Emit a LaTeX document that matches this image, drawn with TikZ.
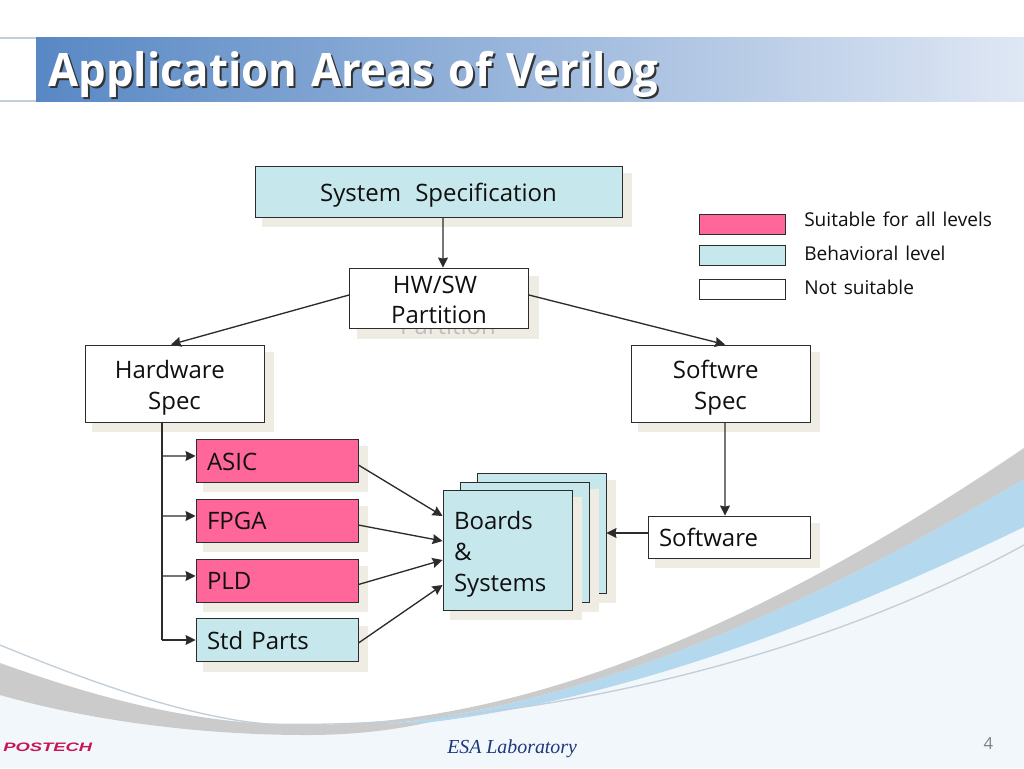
\documentclass[tikz,border=0pt]{standalone}
\usepackage{fontspec}
\setmainfont{Open Sans}
\newfontfamily\esafont{Liberation Serif}
\newfontfamily\logofont[FakeStretch=1.5]{Liberation Sans}
\newfontfamily\titlefont[FakeStretch=0.95]{Open Sans}
\usetikzlibrary{arrows.meta,shadows,calc}
\definecolor{shadowc}{HTML}{EEECE3}
\definecolor{cyanbox}{HTML}{C6E7EC}
\definecolor{pinkbox}{HTML}{FF6699}
\definecolor{bgblue}{HTML}{F2F7FB}
\definecolor{bandblue}{HTML}{B4D8EE}
\definecolor{bandgray}{HTML}{CBCBCB}
\definecolor{thinline}{HTML}{C2CED8}
\definecolor{edge}{HTML}{2C2C2C}
\definecolor{txt}{HTML}{101010}
\newcommand{\dn}[1]{\rule{0pt}{#1pt}}
\newcommand{\lsp}{\hspace{1.5pt} }
\newcommand{\tsp}{\hspace{2pt} }
\tikzset{
  x=0.75pt,y=-0.75pt,
  sz/.style 2 args={minimum width=#1*0.75pt,minimum height=#2*0.75pt},
  plainbox/.style={rectangle,draw=edge,line width=0.7pt,inner sep=0pt,text=txt,
    font=\fontsize{18}{23}\selectfont,align=center},
  shadowed/.style={plainbox,general shadow={fill=shadowc,draw=shadowc,line width=2.2pt,
    shadow xshift=6.4pt,shadow yshift=-6.4pt}},
  leftbox/.style 2 args={shadowed,align=left,text width=#1*0.75pt-16.5pt,inner xsep=8.25pt,
    minimum height=#2*0.75pt},
  conn/.style={draw=edge,line width=1pt,-{Stealth[length=7.5pt,width=7.5pt,inset=0.8pt]}},
  wire/.style={draw=edge,line width=1pt},
  legendbox/.style={rectangle,draw=edge,line width=0.7pt,minimum width=64.5pt,minimum height=15pt,inner sep=0pt},
  legendtext/.style={anchor=west,inner sep=0pt,text=txt,font=\fontsize{14.3}{17}\selectfont},
  titletext/.style={anchor=base west,inner sep=0pt,font=\titlefont\fontsize{34.5}{40}\bfseries\selectfont}
}
\begin{document}
\begin{tikzpicture}
\useasboundingbox (0,0) rectangle (1024,768);
\fill[white] (0,0) rectangle (1024,768);
% background swooshes
\fill[bgblue] (0,695) .. controls (80,718) and (190,735) .. (306,735)
  -- (306,730) .. controls (550,730) and (800,635) .. (1024,527)
  -- (1024,768) -- (0,768) -- cycle;
\fill[bandblue] (306,728) .. controls (550,728) and (800,612) .. (1024,479)
  -- (1024,527) .. controls (800,635) and (550,730) .. (306,730) -- cycle;
\fill[bandgray] (306,725) .. controls (550,725) and (800,600) .. (1024,448)
  -- (1024,479) .. controls (800,612) and (550,728) .. (306,728) -- cycle;
\fill[bandgray] (0,663) .. controls (90,695) and (190,725) .. (306,725)
  .. controls (350,725) and (390,724) .. (430,722)
  .. controls (390,731) and (350,735) .. (306,735)
  .. controls (190,735) and (80,718) .. (0,695) -- cycle;
\draw[thinline,line width=1pt] (0,645) .. controls (90,682) and (190,718) .. (268,724)
  .. controls (520,730) and (810,662) .. (1024,545);
% title bar
\draw[thinline,line width=0.8pt] (0,38) -- (36,38) (0,101) -- (36,101);
\shade[left color={rgb,255:red,88;green,136;blue,196},middle color={rgb,255:red,160;green,184;blue,222},right color={rgb,255:red,223;green,231;blue,244}] (36,37) rectangle (1024,101);
\node[titletext,text=black!80] (titleshadow) at (50,88) {Application\tsp Areas\tsp of\tsp Verilog};
\node[titletext,text=white] (title) at (48,86) {Application\tsp Areas\tsp of\tsp Verilog};
% legend
\node[legendbox,fill=pinkbox] (lg1) at (742,224) {};
\node[legendbox,fill=cyanbox] (lg2) at (742,255) {};
\node[legendbox,fill=white] (lg3) at (742,289) {};
\node[legendtext] (lt1) at (804,219) {Suitable\lsp for\lsp all\lsp levels};
\node[legendtext] (lt2) at (804,253) {Behavioral\lsp level};
\node[legendtext] (lt3) at (804,287) {Not\lsp suitable};
% top boxes
\node[shadowed,sz={367}{51},fill=cyanbox] (sys) at (438.5,191.5) {\dn{19.7}System\hspace{6pt} Specification};
\node[rectangle,fill=shadowc,draw=shadowc,line width=0.6pt,sz={181}{62},inner sep=0pt] (hwshadow) at (447.5,307) {};
\node[text=black!25,font=\fontsize{18}{23}\selectfont,inner sep=0pt] (ghost) at (448,326) {Partition};
\node[plainbox,sz={179}{60},fill=white] (hw) at (439,298) {\dn{15.8}HW/SW\hspace*{6pt}\\[-0.3pt]Partition};
\node[shadowed,sz={179}{77},fill=white] (hwspec) at (174.5,383.5) {\dn{19.7}Hardware\hspace*{7pt}\\Spec};
\node[shadowed,sz={179}{77},fill=white] (swspec) at (720.5,383.5) {\dn{19.7}Softwre\hspace*{7pt}\\Spec};
% parts
\node[leftbox={162}{43},fill=pinkbox] (asic) at (277,460.5) {\dn{15}ASIC};
\node[leftbox={162}{43},fill=pinkbox] (fpga) at (277,520.5) {FPGA};
\node[leftbox={162}{43},fill=pinkbox] (pld) at (277,580.5) {PLD};
\node[leftbox={162}{43},fill=cyanbox] (std) at (277,640) {\dn{15}Std Parts};
% boards stack
\node[shadowed,sz={129}{120},fill=cyanbox] (b3) at (541.5,533) {};
\node[shadowed,sz={129}{120},fill=cyanbox] (b2) at (524.5,542) {};
\node[leftbox={129}{120},fill=cyanbox] (b1) at (507.5,550) {\dn{20}Boards\\\&\\Systems};
\node[leftbox={162}{42},fill=white] (soft) at (729,537) {\dn{15}Software};
% connectors
\draw[conn] ([xshift=3.4pt]sys.south) -- ([xshift=3pt]hw.north);
\draw[conn] ([yshift=2.25pt]hw.west) -- ([xshift=-2.6pt]hwspec.north);
\draw[conn] ([yshift=2.25pt]hw.east) -- ([xshift=3.4pt]swspec.north);
\coordinate (trunk) at ([xshift=-9.4pt]hwspec.south);
\draw[wire] (trunk) -- (trunk |- std.west);
\draw[conn] (trunk |- 0,456) -- ([yshift=3.4pt]asic.west);
\draw[conn] (trunk |- 0,516) -- ([yshift=3.4pt]fpga.west);
\draw[conn] (trunk |- 0,576) -- ([yshift=3.4pt]pld.west);
\draw[conn] (trunk |- std.west) -- (std.west);
\draw[conn] ([yshift=-3.4pt]asic.east) -- ([yshift=25.5pt]b1.west);
\draw[conn] ([yshift=-3.4pt]fpga.east) -- ([yshift=6.75pt]b1.west);
\draw[conn] ([yshift=-3pt]pld.east) -- ([yshift=-7.5pt]b1.west);
\draw[conn] ([yshift=-2.25pt]std.east) -- ([yshift=-26.25pt]b1.west);
\draw[conn] ([xshift=3.4pt]swspec.south) -- ([xshift=-3pt]soft.north);
\draw[conn] ([yshift=3pt]soft.west) -- (b3.east |- 0,533);
% footer
\node[anchor=west,inner sep=0pt,text={rgb,255:red,200;green,20;blue,90},font=\logofont\fontsize{9.2}{10}\bfseries\itshape\selectfont] (logo) at (3,747.5) {POSTECH};
\node[anchor=west,inner sep=0pt,text={rgb,255:red,30;green,55;blue,125},font=\esafont\fontsize{14.9}{16}\itshape\selectfont] (lab) at (447,749) {ESA Laboratory};
\node[inner sep=0pt,text=black!50,font=\fontsize{12.5}{14}\selectfont] (pnum) at (988.5,744) {4};
\end{tikzpicture}
\end{document}
